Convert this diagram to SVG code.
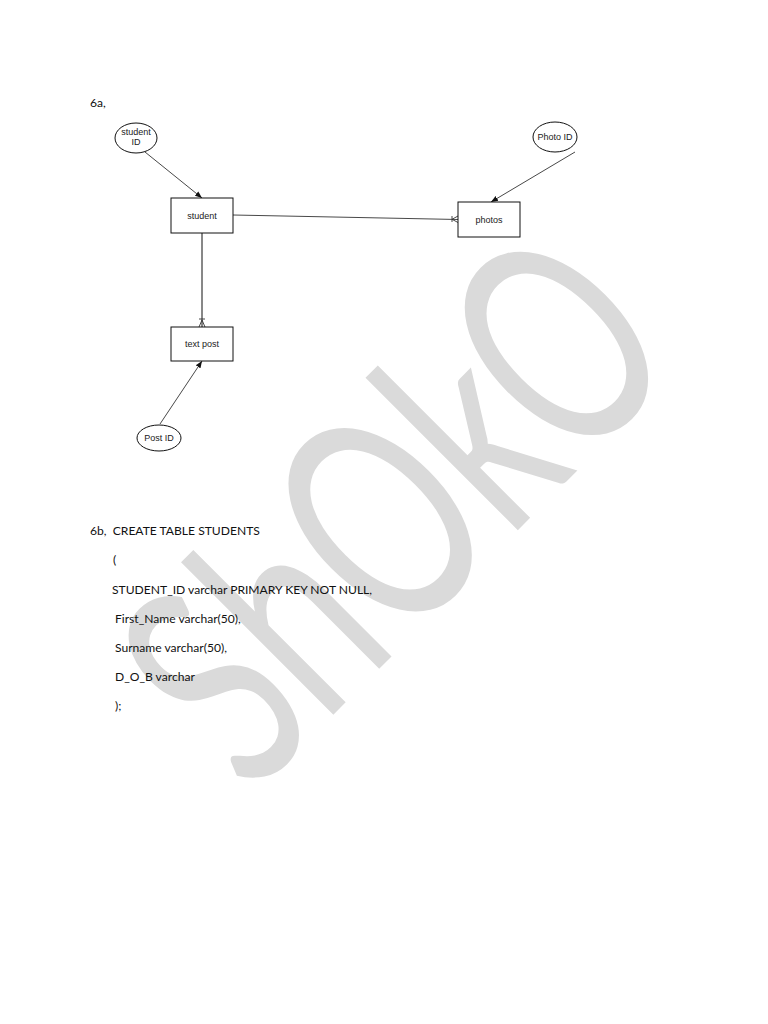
<svg xmlns="http://www.w3.org/2000/svg" width="768" height="1024" viewBox="0 0 768 1024">
<style>
.doc{font-family:Lato,"Liberation Sans",sans-serif;font-size:12.1px;fill:#111}
.lbl{font-family:"Liberation Sans",Arial,sans-serif;font-size:9px;fill:#222;text-anchor:middle}
.box{fill:#fff;stroke:#111;stroke-width:1}
.ell{fill:#fff;stroke:#111;stroke-width:1}
.ln{stroke:#333;stroke-width:0.9;fill:none}
.wm{font-family:Lato,"Open Sans",sans-serif;font-size:195px;fill:#dadada}
</style>
<defs>
<marker id="arr" viewBox="0 0 10 10" refX="10" refY="5" markerWidth="7" markerHeight="7" orient="auto" markerUnits="userSpaceOnUse">
<path d="M0,1 L10,5 L0,9 z" fill="#111"/>
</marker>
</defs>
<rect width="768" height="1024" fill="#fff"/>
<text class="wm" transform="translate(250,798) rotate(-45) scale(1,1.5)">ShOkO</text>
<text class="doc" x="90" y="107">6a,</text>
<g id="connectors">
<line class="ln" x1="145" y1="152" x2="202" y2="198" marker-end="url(#arr)"/>
<line class="ln" x1="575" y1="152" x2="491" y2="202" marker-end="url(#arr)"/>
<line class="ln" x1="160" y1="424" x2="202" y2="361" marker-end="url(#arr)"/>
<line class="ln" x1="233" y1="215" x2="458" y2="219.5"/>
<g class="ln">
<line x1="452" y1="216" x2="452" y2="222"/>
<line x1="452" y1="219.3" x2="458" y2="216"/>
<line x1="452" y1="219.3" x2="458" y2="222.5"/>
</g>
<line x1="202" y1="233" x2="202" y2="327" stroke="#111" stroke-width="1"/>
<g class="ln">
<line x1="199" y1="319" x2="205" y2="319"/>
<line x1="202" y1="320" x2="199" y2="327"/>
<line x1="202" y1="320" x2="205" y2="327"/>
</g>
</g>
<g id="student-id"><ellipse class="ell" cx="136" cy="138" rx="21" ry="15"/><text class="lbl" x="136" y="135">student</text><text class="lbl" x="136" y="145">ID</text></g>
<g id="student"><rect class="box" x="171" y="198" width="62" height="35"/><text class="lbl" x="202" y="219">student</text></g>
<g id="photo-id"><ellipse class="ell" cx="555" cy="137" rx="22" ry="15"/><text class="lbl" x="555" y="140">Photo ID</text></g>
<g id="photos"><rect class="box" x="458" y="202" width="62" height="35"/><text class="lbl" x="489" y="223">photos</text></g>
<g id="text-post"><rect class="box" x="171" y="327" width="62" height="34"/><text class="lbl" x="202" y="347">text post</text></g>
<g id="post-id"><ellipse class="ell" cx="159" cy="438" rx="22" ry="13"/><text class="lbl" x="159" y="441">Post ID</text></g>
<text class="doc" x="90" y="535" xml:space="preserve">6b,  CREATE TABLE STUDENTS</text>
<text class="doc" x="113" y="564">(</text>
<text class="doc" x="112" y="594">STUDENT_ID varchar PRIMARY KEY NOT NULL,</text>
<text class="doc" x="115" y="623">First_Name varchar(50),</text>
<text class="doc" x="115" y="652">Surname varchar(50),</text>
<text class="doc" x="115" y="681">D_O_B varchar</text>
<text class="doc" x="115" y="710">);</text>
</svg>
